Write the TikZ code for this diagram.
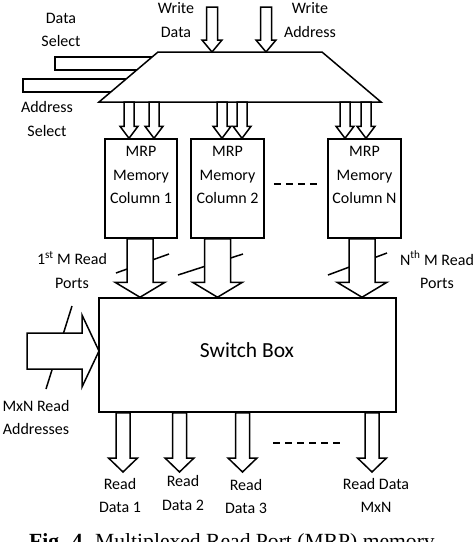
\documentclass[tikz,border=0pt]{standalone}
\usepackage{fontspec}
\setmainfont{Carlito}
\newfontfamily\capfont{Liberation Serif}
\usetikzlibrary{positioning,calc}

\tikzset{
  bus/.style={draw, fill=white, line width=1.5pt, line join=miter},
  blk/.style={draw, line width=1.5pt, inner sep=0pt},
  lbl/.style={align=center, font=\fontsize{16}{23.5}\selectfont, inner sep=0pt},
  tick/.style={line width=1.5pt},
  gap/.style={line width=1.5pt, dash pattern=on 7pt off 5pt}
}

% hollow bus arrow pointing down: x, from, to, half shaft, half head, head length
\newcommand{\vbus}[6]{%
  \filldraw[bus] let \p1=(#2), \p2=(#3) in
    (#1pt-#4pt,\y1) -- (#1pt-#4pt,\y2+#6pt) -- (#1pt-#5pt,\y2+#6pt) -- (#1pt,\y2)
    -- (#1pt+#5pt,\y2+#6pt) -- (#1pt+#4pt,\y2+#6pt) -- (#1pt+#4pt,\y1) -- cycle;}

\begin{document}
\begin{tikzpicture}[x=1pt, y=-1pt]
  \useasboundingbox (0,0) rectangle (474,542);
  \clip (0,0) rectangle (474,542);

  % select lines into the mux
  \draw[blk] (55,57) rectangle (165,70);
  \draw[blk] (23,79) rectangle (165,92);

  % write mux
  \coordinate (wtop) at (0,7);
  \coordinate (muxtop) at (0,52);
  \coordinate (muxbot) at (0,102);
  \filldraw[bus] (99,102) -- (158,52) -- (322,52) -- (381,102) -- cycle;

  \node[lbl] (wdata) at (176,20) {Write\\Data};
  \node[lbl] (waddr) at (310,20) {Write\\Address};
  \node[lbl] (dsel) at (61,30) {Data\\Select};
  \node[lbl] (asel) at (47,119) {Address\\Select};

  \vbus{212}{wtop}{muxtop}{5.5}{10}{12}
  \vbus{266}{wtop}{muxtop}{5.5}{10}{12}

  % memory columns
  \node[blk, minimum width=72pt, minimum height=99pt] (c1) at (141,188.5) {};
  \node[blk, minimum width=73pt, minimum height=99pt] (c2) at (227.5,188.5) {};
  \node[blk, minimum width=73pt, minimum height=99pt] (cN) at (364.5,188.5) {};
  \node[lbl] (t1) at (141,175) {MRP\\Memory\\Column 1};
  \node[lbl] (t2) at (227.5,175) {MRP\\Memory\\Column 2};
  \node[lbl] (tN) at (364.5,175) {MRP\\Memory\\Column N};
  \draw[gap] (c2.east |- 0,184) ++(9,0) -- (317,184);

  \vbus{129}{muxbot}{c1.north}{5}{9}{12}
  \vbus{154}{muxbot}{c1.north}{5}{9}{12}
  \vbus{222}{muxbot}{c2.north}{5}{9}{12}
  \vbus{242}{muxbot}{c2.north}{5}{9}{12}
  \vbus{345}{muxbot}{cN.north}{5}{9}{12}
  \vbus{366}{muxbot}{cN.north}{5}{9}{12}

  % switch box
  \node[blk, minimum width=297pt, minimum height=114pt] (sw) at (247.5,355) {};
  \node[font=\fontsize{21.5}{26}\selectfont] (swt) at (247,350) {Switch Box};

  % read ports
  \draw[tick] (116,273) -- (169,254);
  \draw[tick] (178,275) -- (243,254);
  \draw[tick] (328,275) -- (387,253);
  \vbus{140}{c1.south}{sw.north}{13}{25}{15}
  \vbus{217.5}{c2.south}{sw.north}{13}{25}{15}
  \vbus{362}{cN.south}{sw.north}{13}{25}{15}
  \node[lbl] (p1) at (72,270) {1\textsuperscript{st} M Read\\Ports};
  \node[lbl] (pN) at (437,270) {N\textsuperscript{th} M Read\\Ports};

  % read addresses
  \draw[tick] (72,306) -- (46,389);
  \filldraw[bus] (27,333) -- (82,333) -- (82,315) -- (99,351) -- (82,387)
    -- (82,369) -- (27,369) -- cycle;
  \node[lbl] (raddr) at (36,417.5) {MxN Read\\Addresses};

  % read data out
  \coordinate (rout) at (0,472);
  \vbus{123}{sw.south}{rout}{7}{14.5}{14}
  \vbus{179.5}{sw.south}{rout}{7}{14.5}{14}
  \vbus{242.5}{sw.south}{rout}{7}{14.5}{14}
  \vbus{372}{sw.south}{rout}{7}{14.5}{14}
  \draw[gap] (273,443) -- (341,443);
  \node[lbl] (r1) at (120,495.5) {Read\\Data 1};
  \node[lbl] (r2) at (183,493) {Read\\Data 2};
  \node[lbl] (r3) at (246,496.5) {Read\\Data 3};
  \node[lbl] (rN) at (376,495.5) {Read Data\\MxN};

  % caption (cut off by the frame)
  \node[anchor=base west, inner sep=0pt, font=\capfont\fontsize{21.6}{22}\selectfont] (cap)
    at (29,548) {\textbf{Fig. 4.} Multiplexed Read Port (MRP) memory};
\end{tikzpicture}
\end{document}
